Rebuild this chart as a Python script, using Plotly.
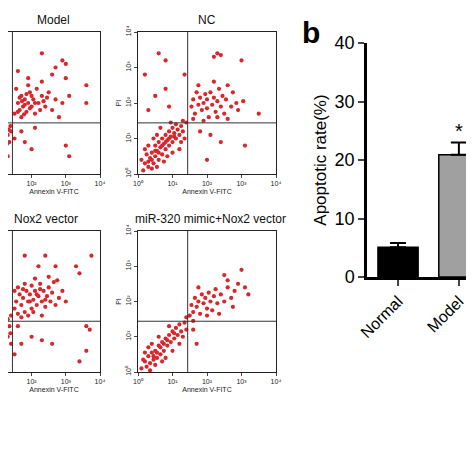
import plotly.graph_objects as go

# flow cytometry points, log10 units "x,y"
model_pts = ("1.1,0.5 1.15,0.8 1.2,1.0 1.1,1.2 1.25,0.7 1.3,1.1 1.35,0.9 1.2,1.3 1.15,0.3 1.4,1.2 1.3,0.5 1.1,0.9 "
             "1.38,1.35 1.25,1.45 1.12,0.65 1.18,1.1 1.28,0.85 1.33,1.25 "
             "1.5,1.7 1.6,2.0 1.65,1.8 1.7,2.2 1.75,1.9 1.8,2.1 1.85,1.75 1.9,2.0 1.95,2.3 2.0,1.9 2.05,2.1 2.1,1.7 "
             "2.15,2.4 2.2,2.0 2.25,1.8 2.3,2.2 2.4,1.9 2.5,2.3 2.6,1.8 2.7,2.1 2.9,2.0 3.1,2.2 1.55,2.4 1.7,1.6 "
             "1.9,2.5 2.3,2.6 2.6,2.8 3.0,2.7 3.6,2.5 3.6,2.0 2.8,1.6 1.65,2.15 1.8,1.95 1.95,1.85 2.0,2.2 2.1,2.0 "
             "1.85,2.25 1.72,2.05 2.35,2.05 1.6,1.75 1.78,1.68 2.45,2.15 "
             "2.3,3.4 2.9,3.2 3.0,3.1 2.7,3.0 1.6,2.9 1.9,2.7 1.7,1.2 1.8,0.9 2.0,0.7 3.0,0.8 3.1,0.5 1.5,1.0 2.1,1.3")
nc_pts = ("0.15,0.1 0.2,0.3 0.3,0.2 0.35,0.45 0.4,0.6 0.45,0.3 0.5,0.5 0.5,0.8 0.55,0.65 0.6,0.4 0.6,0.9 0.65,0.75 "
          "0.7,0.55 0.7,1.0 0.75,0.85 0.8,0.7 0.8,1.1 0.85,0.95 0.9,0.8 0.9,1.2 0.95,1.05 1.0,0.9 1.0,1.3 1.05,1.15 "
          "1.1,1.0 1.1,1.4 1.15,1.25 1.2,1.1 1.25,1.35 1.3,1.5 1.3,1.2 1.35,1.0 1.4,1.45 0.25,0.55 0.4,0.15 0.55,1.1 "
          "0.75,0.35 0.3,0.8 0.65,1.3 1.2,0.7 0.85,0.5 1.0,0.6 0.45,1.0 0.2,0.7 0.1,0.4 0.55,0.2 0.95,1.45 1.25,0.9 "
          "0.6,0.6 0.7,0.8 0.8,0.9 0.9,1.0 0.5,0.65 0.4,0.4 0.3,0.35 1.05,1.05 "
          "1.55,1.9 1.6,2.1 1.65,1.7 1.7,2.3 1.75,1.95 1.8,2.15 1.85,1.8 1.9,2.0 1.95,2.25 2.0,1.85 2.0,2.1 2.05,1.6 "
          "2.1,2.3 2.15,1.95 2.2,2.15 2.25,1.75 2.3,2.05 2.35,2.4 2.4,1.9 2.45,2.2 2.5,1.7 2.55,2.1 2.6,2.5 2.7,1.9 "
          "2.75,2.3 2.85,2.0 2.9,1.8 3.05,2.05 1.6,1.55 1.75,2.5 2.2,2.6 2.6,1.55 3.5,1.7 1.9,1.5 2.3,1.6 "
          "0.6,3.4 0.8,3.2 0.2,2.8 0.8,2.4 1.35,2.8 0.5,2.2 0.9,1.9 2.3,3.4 2.4,3.35 2.2,3.3 3.0,3.2 2.1,1.1 2.4,0.9 "
          "2.0,0.4 3.1,0.8 1.8,1.2 0.3,1.8")
nox_pts = ("1.1,0.6 1.2,0.9 1.15,1.2 1.3,1.0 1.25,0.4 1.1,1.4 1.35,1.3 1.2,0.2 1.4,0.8 1.3,1.5 1.1,0.9 1.15,0.75 "
           "1.25,1.1 1.38,1.1 1.12,1.05 "
           "1.4,1.6 1.5,1.8 1.55,2.0 1.6,1.65 1.65,2.2 1.7,1.9 1.75,2.1 1.8,1.7 1.85,2.3 1.9,2.0 1.95,2.2 2.0,1.8 "
           "2.0,2.45 2.05,2.05 2.1,2.3 2.15,1.9 2.2,2.15 2.25,2.5 2.3,2.0 2.35,2.3 2.4,1.85 2.45,2.15 2.5,2.4 "
           "2.55,2.0 2.6,2.25 2.7,1.9 2.75,2.6 2.8,2.1 2.9,2.3 3.0,2.0 1.6,2.4 1.7,1.55 1.8,2.5 1.9,1.6 2.1,2.65 "
           "2.3,1.6 2.5,2.7 2.65,2.55 1.5,2.3 1.95,2.0 2.05,1.7 2.25,2.35 1.75,2.35 2.4,2.05 2.15,2.2 "
           "2.2,3.0 1.8,3.3 2.4,3.3 2.7,3.0 3.3,3.0 3.75,3.3 3.4,2.8 1.6,1.3 2.0,1.0 2.3,0.9 2.6,0.8 1.5,0.5 "
           "3.6,1.3 3.7,1.2 3.6,0.6 3.4,0.3 1.7,0.8")
mir_pts = ("0.1,0.1 0.2,0.3 0.25,0.15 0.3,0.45 0.35,0.25 0.4,0.55 0.45,0.35 0.5,0.6 0.55,0.4 0.6,0.75 0.65,0.5 "
           "0.7,0.85 0.75,0.6 0.8,0.95 0.85,0.75 0.9,1.05 0.95,0.85 1.0,1.15 1.05,0.95 1.1,1.25 1.15,1.05 1.2,1.35 "
           "1.25,1.15 1.3,1.0 1.35,1.4 0.3,0.7 0.5,0.2 0.6,1.0 0.8,0.4 1.0,0.6 0.2,0.55 0.4,0.8 0.7,0.3 0.9,1.3 "
           "1.2,0.8 0.15,0.35 0.55,0.55 0.65,0.7 0.75,0.8 0.85,0.9 0.45,0.45 1.05,1.1 1.4,1.2 0.35,0.05 "
           "1.5,1.6 1.55,1.9 1.6,1.7 1.65,2.1 1.7,1.85 1.75,2.0 1.8,1.65 1.85,2.2 1.9,1.95 1.95,2.1 2.0,1.8 "
           "2.05,2.25 2.1,2.0 2.15,1.75 2.2,2.15 2.25,2.35 2.3,1.95 2.4,2.2 2.5,2.0 2.6,2.4 2.7,2.1 2.8,2.3 "
           "2.9,2.5 3.1,2.4 3.2,2.2 1.6,1.45 1.75,2.4 2.0,1.6 2.35,1.65 2.6,2.6 2.75,1.85 3.0,2.9 2.5,2.75 "
           "1.4,1.55 1.6,1.2 1.7,0.8")
rate_groups = ["Normal", "Model"]
rate_mean = [5.1, 20.9]
rate_err = [0.7, 2.1]


def parse(s):
    xs, ys = [], []
    for p in s.split():
        a, b = p.split(",")
        xs.append(10 ** float(a))
        ys.append(10 ** float(b))
    return xs, ys


red = "#d8262b"
gate_x = 10 ** 1.44
gate_y = 10 ** 1.44
sup = {0: "10\u2070", 1: "10\u00b9", 2: "10\u00b2", 3: "10\u00b3", 4: "10\u2074"}
tv = [10 ** i for i in range(5)]
tt = [sup[i] for i in range(5)]
small = dict(size=7, family="Arial", color="#222")

# the page body has an 8px margin, so lay out in shifted pixel coords
OFF = 8
W = 474
panels = [
    (model_pts, "x", "y", [0, 100 - OFF], [32, 174], "Model", [1.31, 4], False, 35),
    (nc_pts, "x2", "y2", [138 - OFF, 276 - OFF], [32, 174], "NC", [0, 4], True, 207),
    (nox_pts, "x3", "y3", [0, 100 - OFF], [231, 372], "Nox2 vector", [1.31, 4], False, 12),
    (mir_pts, "x4", "y4", [138 - OFF, 276 - OFF], [231, 372], "miR-320 mimic+Nox2 vector", [0, 4], True, 210),
]

fig = go.Figure()
lay = {}
for i, (pts, xa, ya, px, py, title, xr, showy, tx) in enumerate(panels):
    py = [py[0] - OFF, py[1] - OFF]
    xs, ys = parse(pts)
    fig.add_trace(go.Scatter(x=xs, y=ys, mode="markers", xaxis=xa, yaxis=ya,
                             marker=dict(color=red, size=4.2), showlegend=False))
    fig.add_trace(go.Scatter(x=[gate_x, gate_x, None, 1, 10 ** 4], y=[1, 10 ** 4, None, gate_y, gate_y],
                             mode="lines", xaxis=xa, yaxis=ya, line=dict(color="#333", width=1),
                             showlegend=False))
    n = "" if i == 0 else str(i + 1)
    lay["xaxis" + n] = dict(domain=[px[0] / W, px[1] / W], type="log", range=xr, anchor=ya,
                            tickvals=tv, ticktext=tt, ticks="outside", ticklen=3, automargin=False,
                            tickfont=small, showgrid=False, zeroline=False,
                            showline=True, mirror=True, linecolor="#222", linewidth=1,
                            title=dict(text="Annexin V-FITC", font=small, standoff=2))
    lay["yaxis" + n] = dict(domain=[1 - py[1] / W, 1 - py[0] / W], type="log", range=[0, 4], anchor=xa,
                            tickvals=tv, ticktext=tt, ticks="outside" if showy else "", ticklen=3,
                            showticklabels=showy, tickangle=-90, automargin=False,
                            tickfont=small, showgrid=False, zeroline=False,
                            showline=True, mirror=True, linecolor="#222", linewidth=1,
                            title=dict(text="PI" if showy else "", font=small, standoff=2))
    fig.add_annotation(text=title, x=(tx - OFF) / W, y=1 - (py[0] - 3) / W, xref="paper", yref="paper",
                       yanchor="bottom", showarrow=False, font=dict(size=12, family="Arial", color="#111"))

fig.add_trace(go.Bar(x=[0, 1], y=rate_mean, marker_color=["#000000", "#a0a0a0"],
                     marker_line=dict(color="#000", width=1.5), width=0.66,
                     error_y=dict(type="data", array=rate_err, symmetric=False, arrayminus=[0, 0],
                                  color="#000", thickness=2, width=8),
                     xaxis="x5", yaxis="y5", showlegend=False))
fig.add_trace(go.Scatter(x=[1], y=[rate_mean[1] + rate_err[1] + 1.6], mode="text", text=["*"],
                         textfont=dict(size=20, family="Arial", color="#000"),
                         xaxis="x5", yaxis="y5", showlegend=False))
lay["xaxis5"] = dict(domain=[(367 - OFF) / W, 1], range=[-0.51, 1.38], anchor="y5", tickvals=[0, 1],
                     ticktext=rate_groups, tickangle=-45, ticks="outside", ticklen=6, tickwidth=2,
                     tickfont=dict(size=16, family="Arial", color="#000"), showline=True, automargin=False,
                     linewidth=2.5, linecolor="#000", showgrid=False, zeroline=False)
lay["yaxis5"] = dict(domain=[1 - (277 - OFF) / W, 1 - (43 - OFF) / W], range=[0, 40], anchor="x5",
                     automargin=False,
                     tickvals=[0, 10, 20, 30, 40], ticks="outside", ticklen=6, tickwidth=2,
                     tickfont=dict(size=18, family="Arial", color="#000"), showline=True,
                     linewidth=2.5, linecolor="#000", showgrid=False, zeroline=False,
                     title=dict(text="Apoptotic rate(%)", font=dict(size=17, family="Arial", color="#000"),
                                standoff=4))
fig.add_annotation(text="<b>b</b>", x=(300 - OFF) / W, y=1 - (14 - OFF) / W, xref="paper", yref="paper",
                   xanchor="left", showarrow=False, font=dict(size=30, family="Arial", color="#000"))

fig.update_layout(width=474, height=474, margin=dict(l=0, r=0, t=0, b=0),
                  paper_bgcolor="white", plot_bgcolor="white", **lay)
fig.write_html("out.html")
